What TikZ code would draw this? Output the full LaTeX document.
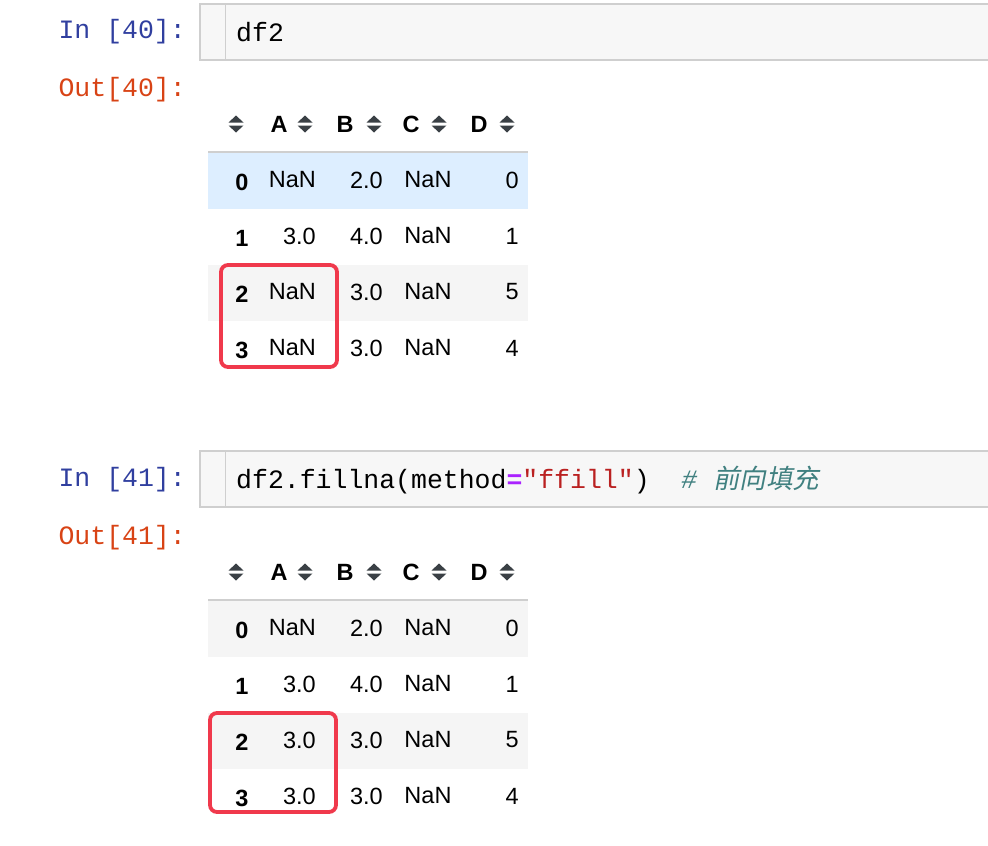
\documentclass[tikz,border=0pt]{standalone}
\usepackage{fontspec}
\setmainfont{Liberation Sans}
\setmonofont{Liberation Mono}
\newfontfamily\cjk[FakeSlant=0.2]{Noto Sans CJK SC}
\definecolor{inblue}{HTML}{303F9F}
\definecolor{outred}{HTML}{D84315}
\definecolor{cellbg}{HTML}{F7F7F7}
\definecolor{cellbd}{HTML}{CFCFCF}
\definecolor{rowgrey}{HTML}{F5F5F5}
\definecolor{rowblue}{HTML}{DDEEFF}
\definecolor{boxred}{HTML}{F0394C}
\definecolor{arrgrey}{HTML}{3A4045}
\definecolor{kwpurple}{HTML}{AA22FF}
\definecolor{strred}{HTML}{BA2121}
\definecolor{cmtteal}{HTML}{408080}
\tikzset{
 prompt/.style={font=\ttfamily\fontsize{26.5}{26.5}\selectfont, anchor=east, inner sep=0pt},
 code/.style={font=\ttfamily\fontsize{26.5}{26.5}\selectfont, anchor=west, inner sep=0pt},
 cell/.style={fill=cellbg, draw=cellbd, line width=1.2pt},
 hdr/.style={font=\bfseries\fontsize{23.5}{23.5}\selectfont, inner sep=0pt},
 val/.style={font=\fontsize{23.5}{23.5}\selectfont, inner sep=0pt},
 idx/.style={font=\bfseries\fontsize{23.5}{23.5}\selectfont, inner sep=0pt},
 redbox/.style={draw=boxred, line width=3.8pt, rounded corners=7pt},
}
\newcommand{\sortarrow}[2]{%
 \fill[arrgrey] (#1-7.5,#2-1.5) -- (#1+7.5,#2-1.5) -- (#1,#2-8.5) -- cycle;
 \fill[arrgrey] (#1-7.5,#2+1.5) -- (#1+7.5,#2+1.5) -- (#1,#2+8.5) -- cycle;}
\newcommand{\dftable}[3]{% y0 of header, row0 color, suffix
 \foreach \a in {236,305,374,439,507} {\sortarrow{\a}{#1}}
 \node[hdr] (hA#3) at (279,#1) {A};
 \node[hdr] (hB#3) at (345,#1) {B};
 \node[hdr] (hC#3) at (411,#1) {C};
 \node[hdr] (hD#3) at (479,#1) {D};
 \fill[#2] (208,#1+29) rectangle (528,#1+85);
 \fill[rowgrey] (208,#1+141) rectangle (528,#1+197);
 \draw[cellbd, line width=1.5pt] (208,#1+28) -- (528,#1+28);
}
\begin{document}
\begin{tikzpicture}[x=1pt,y=-1pt]
\useasboundingbox (0,0) rectangle (988,846);
% cell 40
\node[prompt, text=inblue] (in40) at (186,32) {In [40]:};
\draw[cell] (200,4) rectangle (995,60);
\draw[cellbd, line width=1pt] (225,4) -- (225,60);
\node[code] (c40) at (236,32) {df2};
\node[prompt, text=outred] (out40) at (186,90) {Out[40]:};
\dftable{124}{rowblue}{a}
\foreach \i/\A/\B/\D [count=\r from 0] in {0/NaN/2.0/0,1/3.0/4.0/1,2/NaN/3.0/5,3/NaN/3.0/4}{
 \node[idx] (ia\r) at (242,{182+56*\r}) {\i};
 \node[val, anchor=east] (aa\r) at (316,{180+56*\r}) {\A};
 \node[val, anchor=east] (ba\r) at (383,{180+56*\r}) {\B};
 \node[val] (ca\r) at (428,{180+56*\r}) {NaN};
 \node[val, anchor=east] (da\r) at (519,{180+56*\r}) {\D};
}
\draw[redbox] (221,265) rectangle (337,367);
% cell 41
\node[prompt, text=inblue] (in41) at (186,480) {In [41]:};
\draw[cell] (200,451) rectangle (995,507);
\draw[cellbd, line width=1pt] (225,451) -- (225,507);
\node[code] (c41) at (236,480) {df2.fillna(method\textcolor{kwpurple}{\bfseries=}\textcolor{strred}{"ffill"})\ \ \textcolor{cmtteal}{\itshape\# {\cjk 前向填充}}};
\node[prompt, text=outred] (out41) at (186,538) {Out[41]:};
\dftable{572}{rowgrey}{b}
\foreach \i/\A/\B/\D [count=\r from 0] in {0/NaN/2.0/0,1/3.0/4.0/1,2/3.0/3.0/5,3/3.0/3.0/4}{
 \node[idx] (ib\r) at (242,{630+56*\r}) {\i};
 \node[val, anchor=east] (ab\r) at (316,{628+56*\r}) {\A};
 \node[val, anchor=east] (bb\r) at (383,{628+56*\r}) {\B};
 \node[val] (cb\r) at (428,{628+56*\r}) {NaN};
 \node[val, anchor=east] (db\r) at (519,{628+56*\r}) {\D};
}
\draw[redbox] (210,713) rectangle (336,812);
\end{tikzpicture}
\end{document}
